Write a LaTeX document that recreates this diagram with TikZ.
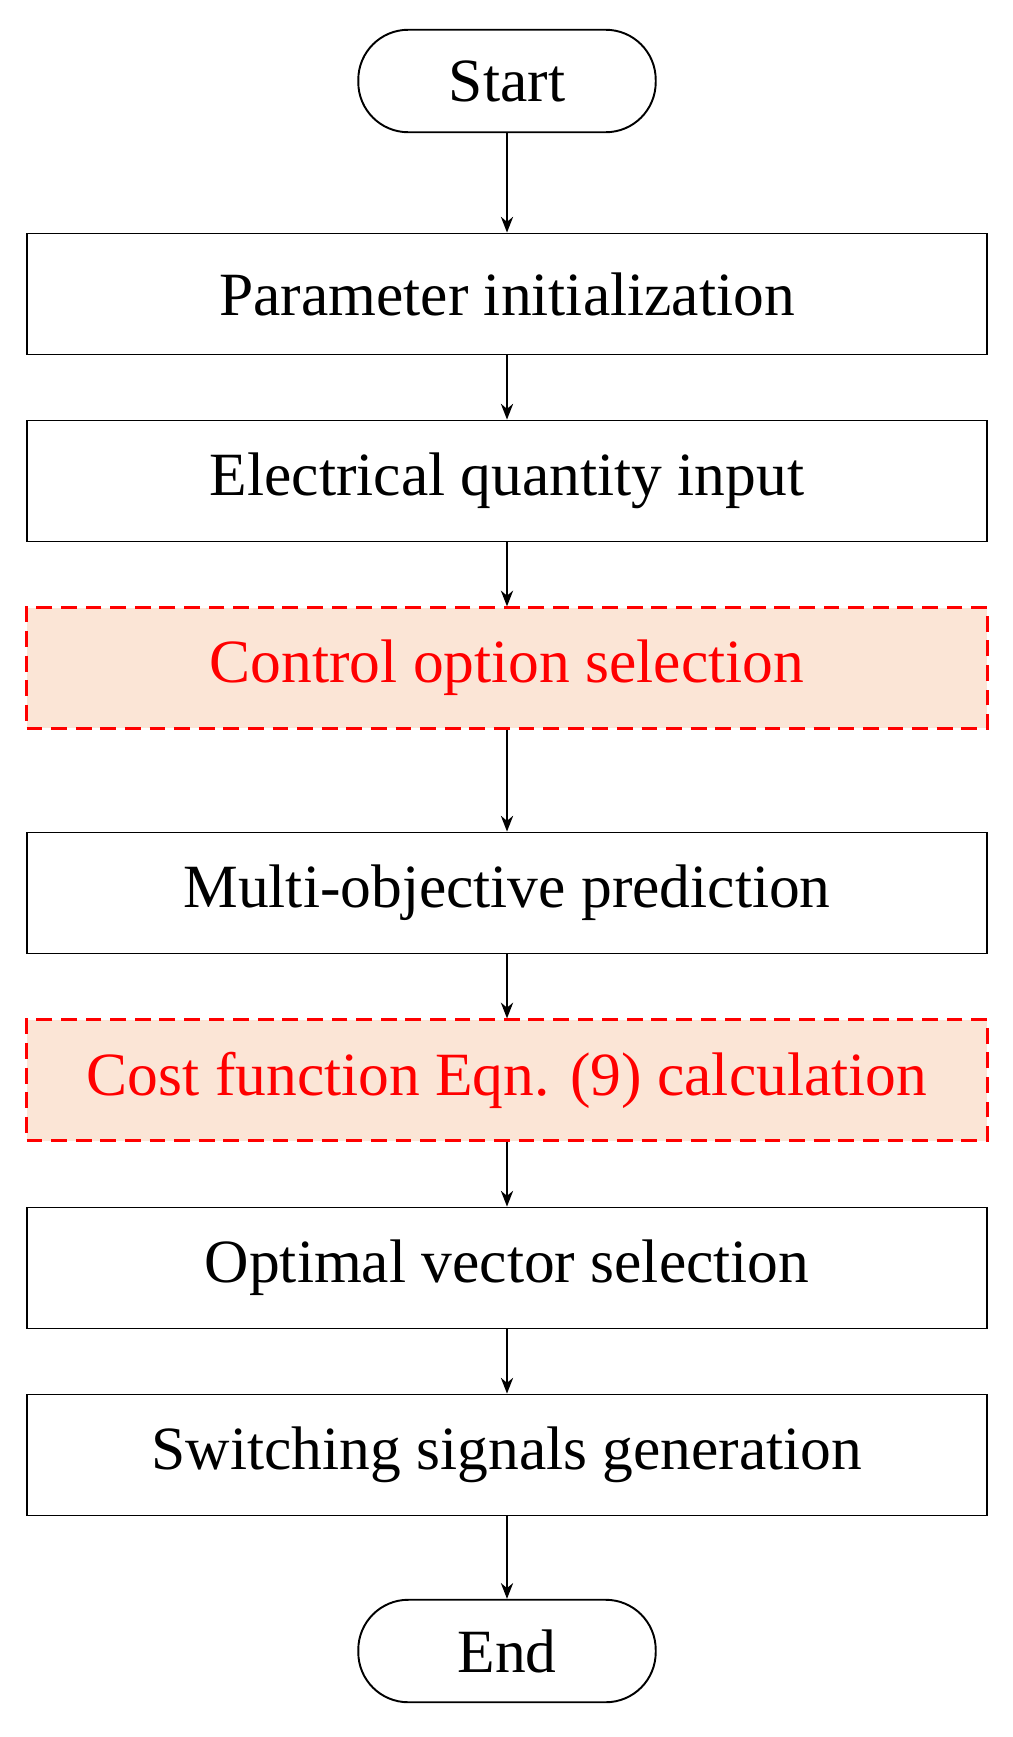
\documentclass[tikz,border=0pt]{standalone}
\usepackage{fontspec}
\setmainfont{Liberation Serif}
\usetikzlibrary{arrows.meta}
\definecolor{pk}{HTML}{FBE5D6}
\begin{document}
\begin{tikzpicture}[x=0.02cm,y=-0.02cm,
  box/.style={draw,line width=1.1pt,minimum width=19.22cm,minimum height=2.42cm,font=\fontsize{35}{40}\selectfont},
  hbox/.style={box,draw=red,line width=1.3pt,dash pattern=on 9pt off 5pt,fill=pk,text=red},
  term/.style={draw,line width=1.1pt,rounded corners=1cm,minimum width=5.95cm,minimum height=2.05cm,font=\fontsize{35}{40}\selectfont},
  arr/.style={-{Stealth[length=9pt,width=7pt]},line width=0.9pt}]
\useasboundingbox (0,0) rectangle (1012,1737);
\node[term] (s) at (507,81) {Start};
\node[box] (b1) at (507,294) {Parameter initialization};
\node[box] (b2) at (507,481) {Electrical quantity input};
\node[hbox] (b3) at (507,668) {Control option selection};
\node[box] (b4) at (507,893) {Multi-objective prediction};
\node[hbox] (b5) at (507,1080) {Cost function Eqn. (9) calculation};
\node[box] (b6) at (507,1268) {Optimal vector selection};
\node[box] (b7) at (507,1455) {Switching signals generation};
\node[term] (e) at (507,1651) {End};
\foreach \a/\b in {s/b1,b1/b2,b2/b3,b3/b4,b4/b5,b5/b6,b6/b7,b7/e}
  \draw[arr] (\a) -- (\b);
\end{tikzpicture}
\end{document}
